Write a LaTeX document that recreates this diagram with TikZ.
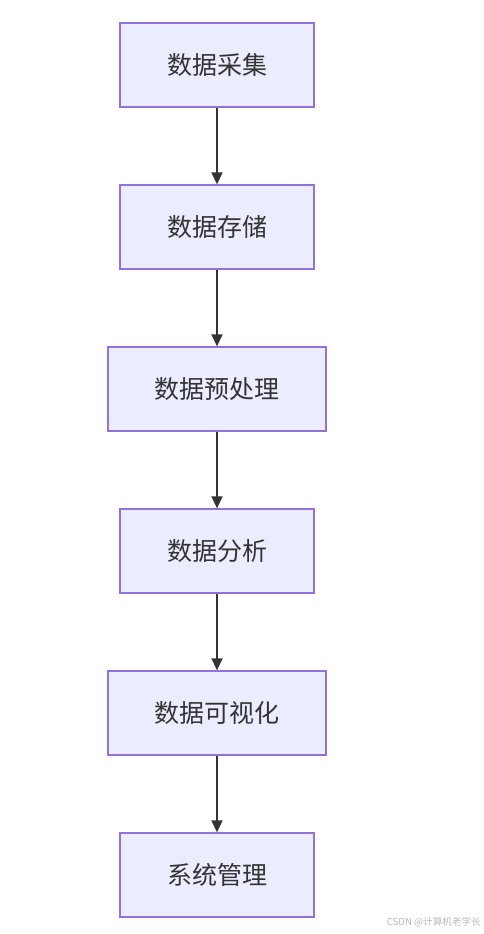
\documentclass[tikz,border=0pt]{standalone}
\usepackage{fontspec}
\setmainfont{Noto Sans CJK SC}
\usetikzlibrary{arrows.meta}
\definecolor{boxfill}{HTML}{ECECFF}
\definecolor{boxline}{HTML}{9370DB}
\definecolor{linkcol}{HTML}{333333}
\definecolor{wm}{HTML}{BBBBBB}
\tikzset{
  stepbox/.style={draw=boxline, fill=boxfill, line width=1.3pt, minimum height=84pt, inner sep=0pt, text=linkcol, font=\fontsize{25}{29}\selectfont},
  narrowbox/.style={stepbox, minimum width=194pt},
  widebox/.style={stepbox, minimum width=218pt},
  link/.style={draw=linkcol, line width=1.5pt, -{Triangle[length=12pt,width=11pt]}}
}
\begin{document}
\begin{tikzpicture}[x=1pt,y=-1pt]
\useasboundingbox (0,0) rectangle (484,934);
\node[narrowbox] (n1) at (217,65) {数据采集};
\node[narrowbox] (n2) at (217,227) {数据存储};
\node[widebox] (n3) at (217,389) {数据预处理};
\node[narrowbox] (n4) at (217,551) {数据分析};
\node[widebox] (n5) at (217,713) {数据可视化};
\node[narrowbox] (n6) at (217,875) {系统管理};
\draw[link] (n1) -- (n2);
\draw[link] (n2) -- (n3);
\draw[link] (n3) -- (n4);
\draw[link] (n4) -- (n5);
\draw[link] (n5) -- (n6);
\node[text=wm, font=\fontsize{9.6}{11}\selectfont, anchor=east, inner sep=0pt] (wmk) at (481,922) {CSDN @计算机老学长};
\end{tikzpicture}
\end{document}
